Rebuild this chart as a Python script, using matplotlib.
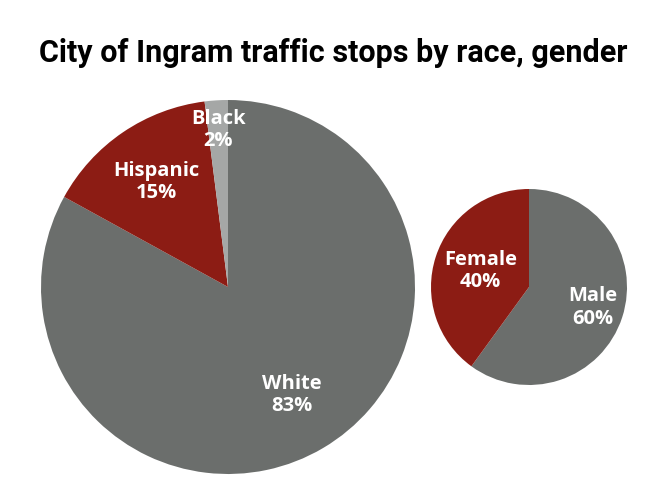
import matplotlib
matplotlib.use("Agg")
import matplotlib.pyplot as plt
import numpy as np

race_labels = ["White", "Hispanic", "Black"]
race_values = [83, 15, 2]
race_colors = ["#6b6e6c", "#8c1c14", "#a5a7a6"]
race_dist = [0.67, 0.68, 0.84]

gender_labels = ["Male", "Female"]
gender_values = [60, 40]
gender_colors = ["#6b6e6c", "#8c1c14"]
gender_dist = [0.68, 0.52]

TITLE = "City of Ingram traffic stops by race, gender"

fig = plt.figure(figsize=(6.67, 5), dpi=100)
ax = fig.add_axes([0, 0, 1, 1])
ax.set_xlim(0, 667)
ax.set_ylim(0, 500)
ax.set_aspect("equal")
ax.axis("off")


def draw_pie(values, labels, colors, dists, center, radius):
    wedges, _ = ax.pie(values, colors=colors, startangle=90, counterclock=False,
                       center=center, radius=radius,
                       wedgeprops=dict(linewidth=0))
    for w, lab, v, d in zip(wedges, labels, values, dists):
        ang = np.deg2rad((w.theta1 + w.theta2) / 2)
        x = center[0] + d * radius * np.cos(ang)
        y = center[1] + d * radius * np.sin(ang)
        ax.text(x, y, f"{lab}\n{v}%", ha="center", va="center", color="white",
                fontsize=14.5, fontweight="bold", family="Open Sans",
                linespacing=1.15)


draw_pie(race_values, race_labels, race_colors, race_dist, (228, 213), 187)
draw_pie(gender_values, gender_labels, gender_colors, gender_dist, (529, 213), 98)

ax.set_xlim(0, 667)
ax.set_ylim(0, 500)

fig.text(0.5, 1 - 53 / 500, TITLE, ha="center", va="center", fontsize=22,
         fontweight="bold", family="Roboto", color="black")

fig.savefig("out.png", dpi=100, facecolor="white")
